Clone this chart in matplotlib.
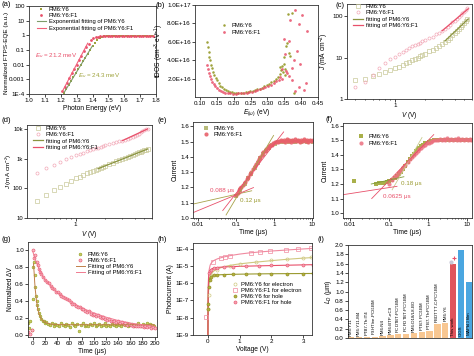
import matplotlib
matplotlib.use('Agg')
import matplotlib.pyplot as plt
from matplotlib.ticker import NullLocator, NullFormatter

plt.rcParams['font.family'] = ['Liberation Sans', 'DejaVu Sans']
plt.rcParams['mathtext.fontset'] = 'custom'
plt.rcParams['mathtext.rm'] = 'Liberation Sans'
plt.rcParams['mathtext.it'] = 'Liberation Sans:italic'

# ---------------- data ----------------
# (a) FTPS-EQE
a_e_y6 = [1.22, 1.235, 1.25, 1.265, 1.28, 1.295, 1.31, 1.325, 1.34, 1.355,
          1.37, 1.385, 1.40, 1.415, 1.43, 1.445, 1.46, 1.475, 1.49, 1.505,
          1.52, 1.535, 1.55, 1.565, 1.58, 1.595, 1.61, 1.625, 1.64, 1.655,
          1.67, 1.685, 1.70, 1.715, 1.73, 1.745, 1.76, 1.775]
a_eqe_y6 = [1.2e-4, 2.2e-4, 4.1e-4, 7.6e-4, 1.4e-3, 2.6e-3, 4.8e-3, 8.9e-3, 0.0165, 0.03,
            0.056, 0.10, 0.18, 0.31, 0.50, 0.68, 0.80, 0.85, 0.87, 0.88,
            0.90, 0.88, 0.90, 0.91, 0.89, 0.90, 0.92, 0.90, 0.91, 0.90,
            0.92, 0.91, 0.90, 0.92, 0.91, 0.90, 0.91, 0.92]
a_e_f1 = [1.21, 1.225, 1.24, 1.255, 1.27, 1.285, 1.30, 1.315, 1.33, 1.345,
          1.36, 1.375, 1.39, 1.405, 1.42, 1.435, 1.45, 1.465, 1.48, 1.495,
          1.51, 1.525, 1.54, 1.555, 1.57, 1.585, 1.60, 1.615, 1.63, 1.645,
          1.66, 1.675, 1.69, 1.705, 1.72, 1.735, 1.75, 1.765, 1.78]
a_eqe_f1 = [1.5e-4, 3e-4, 6e-4, 1.2e-3, 2.5e-3, 5e-3, 0.01, 0.02, 0.04, 0.08,
            0.15, 0.27, 0.45, 0.62, 0.75, 0.82, 0.86, 0.88, 0.90, 0.89,
            0.91, 0.90, 0.92, 0.90, 0.91, 0.93, 0.90, 0.92, 0.91, 0.90,
            0.92, 0.91, 0.93, 0.90, 0.92, 0.91, 0.90, 0.92, 0.91]
a_fit_e_y6 = [1.22, 1.40]
a_fit_y6 = [1.2e-4, 0.195]
a_fit_e_f1 = [1.21, 1.37]
a_fit_f1 = [1.5e-4, 0.29]

# (b) tDOS (x1e16)
b_e_y6 = [0.122, 0.124, 0.126, 0.128, 0.130, 0.133, 0.136, 0.139, 0.142, 0.146,
          0.150, 0.155, 0.160, 0.165, 0.170, 0.176, 0.182, 0.188, 0.194, 0.200,
          0.207, 0.214, 0.221, 0.228, 0.235, 0.242, 0.249, 0.256, 0.263, 0.270,
          0.277, 0.284, 0.291, 0.298, 0.305, 0.312, 0.319, 0.326, 0.332, 0.336,
          0.340, 0.343, 0.346, 0.349, 0.352, 0.355, 0.358, 0.361, 0.364, 0.368,
          0.373, 0.378, 0.338, 0.353, 0.348]
b_dos_y6 = [6.0, 5.4, 4.9, 4.4, 4.0, 3.5, 3.1, 2.7, 2.4, 2.1,
            1.8, 1.5, 1.25, 1.05, 0.9, 0.75, 0.65, 0.57, 0.52, 0.48,
            0.46, 0.45, 0.46, 0.48, 0.5, 0.55, 0.6, 0.66, 0.73, 0.82,
            0.92, 1.02, 1.15, 1.28, 1.42, 1.58, 1.75, 1.95, 2.2, 2.5,
            2.9, 3.4, 2.7, 4.3, 3.0, 5.5, 5.9, 9.0, 4.8, 4.5,
            9.1, 0.4, 3.3, 2.4, 3.6]
b_e_f1 = [0.120, 0.123, 0.126, 0.129, 0.132, 0.136, 0.140, 0.145, 0.150, 0.156,
          0.162, 0.168, 0.175, 0.182, 0.190, 0.198, 0.206, 0.214, 0.222, 0.230,
          0.238, 0.246, 0.254, 0.262, 0.270, 0.278, 0.286, 0.294, 0.302, 0.310,
          0.318, 0.326, 0.333, 0.338, 0.343, 0.348, 0.353, 0.358, 0.363, 0.368,
          0.373, 0.378, 0.383, 0.388, 0.393, 0.398, 0.403, 0.408, 0.413, 0.418,
          0.343, 0.363, 0.383, 0.393, 0.355, 0.373]
b_dos_f1 = [3.5, 3.0, 2.6, 2.25, 1.95, 1.65, 1.4, 1.15, 0.95, 0.78,
            0.65, 0.55, 0.47, 0.42, 0.39, 0.38, 0.38, 0.39, 0.41, 0.44,
            0.48, 0.53, 0.59, 0.66, 0.74, 0.83, 0.93, 1.05, 1.18, 1.33,
            1.5, 1.7, 1.9, 2.2, 2.0, 6.3, 4.7, 2.6, 6.1, 8.4,
            1.8, 4.0, 9.5, 5.0, 7.9, 3.6, 8.9, 0.75, 1.5, 7.2,
            3.0, 2.3, 0.6, 1.1, 2.8, 3.2]

# (c),(d) SCLC
cd_v = [0.4, 0.5, 0.6, 0.7, 0.8, 0.9, 1.0, 1.1, 1.2, 1.3,
        1.4, 1.5, 1.6, 1.7, 1.8, 1.9, 2.0, 2.2, 2.4, 2.6,
        2.8, 3.0, 3.2, 3.4, 3.6, 3.8, 4.0, 4.2, 4.4, 4.6,
        4.8, 5.0, 5.2, 5.4]
c_j_f1 = [1.9, 2.5, 3.7, 5.5, 7.3, 9.0, 10.5, 12, 13.5, 15,
          16.8, 18.5, 20, 21.5, 23, 24.5, 26, 29, 32, 36,
          40, 44, 49, 55, 62, 70, 78, 86, 95, 105,
          116, 127, 140, 155]
c_j_y6 = [2.8, 3.1, 3.5, 4.0, 4.5, 5.0, 5.5, 6.0, 6.6, 7.2,
          7.9, 8.6, 9.3, 10, 10.8, 11.6, 12.4, 14, 15.6, 17.3,
          19.2, 21.5, 24, 27, 30, 34, 38, 43, 48, 54,
          61, 68, 77, 87]
c_fit_v_y6 = [3.2, 5.5]
c_fit_y6 = [25, 85]
c_fit_v_f1 = [3.0, 5.5]
c_fit_f1 = [44, 150]
d_j_f1 = [330, 480, 620, 780, 950, 1120, 1300, 1450, 1600, 1750,
          1900, 2050, 2200, 2350, 2500, 2650, 2800, 3050, 3300, 3550,
          3800, 4050, 4300, 4600, 5000, 5400, 5900, 6400, 7000, 7700,
          8400, 9000, 9600, 10000]
d_j_y6 = [38, 60, 85, 115, 145, 180, 215, 250, 285, 320,
          355, 390, 425, 460, 500, 540, 580, 660, 740, 820,
          900, 980, 1060, 1150, 1240, 1330, 1420, 1520, 1620, 1720,
          1830, 1930, 2020, 2100]
d_fit_v_y6 = [1.7, 5.4]
d_fit_y6 = [460, 2100]
d_fit_v_f1 = [3.0, 5.4]
d_fit_f1 = [4050, 10000]

# (e) TPC
e_t_f1 = [0.10, 0.11, 0.12, 0.13, 0.14, 0.15, 0.17, 0.19, 0.21, 0.23,
          0.25, 0.28, 0.31, 0.34, 0.37, 0.40, 0.44, 0.48, 0.52, 0.57,
          0.62, 0.68, 0.74, 0.81, 0.88, 0.96, 1.05, 1.15, 1.25, 1.37,
          1.5, 1.64, 1.8, 1.97, 2.15, 2.35, 2.57, 2.8, 3.07, 3.35,
          3.66, 4.0, 4.37, 4.78, 5.22, 5.7, 6.23, 6.81, 7.44, 8.13,
          8.88, 9.7, 10.6]
e_i_f1 = [1.15, 1.165, 1.18, 1.195, 1.205, 1.215, 1.235, 1.255, 1.27, 1.285,
          1.30, 1.32, 1.34, 1.355, 1.37, 1.385, 1.40, 1.415, 1.43, 1.44,
          1.45, 1.46, 1.47, 1.475, 1.48, 1.49, 1.495, 1.50, 1.50, 1.505,
          1.51, 1.505, 1.51, 1.50, 1.515, 1.505, 1.51, 1.50, 1.51, 1.505,
          1.515, 1.505, 1.51, 1.50, 1.51, 1.505, 1.515, 1.505, 1.51, 1.50,
          1.51, 1.505, 1.51]
e_t_y6 = [0.1, 0.13, 0.17, 0.21, 0.25, 0.31, 0.37, 0.44, 0.52, 0.62,
          0.74, 0.88, 1.05, 1.25, 1.5, 1.8, 2.15, 2.57, 3.07, 3.66,
          4.37, 5.22, 6.23, 7.44, 8.88, 10.6]
e_i_y6 = [1.145, 1.185, 1.225, 1.26, 1.29, 1.33, 1.36, 1.39, 1.42, 1.44,
          1.46, 1.475, 1.485, 1.495, 1.50, 1.50, 1.505, 1.50, 1.505, 1.50,
          1.505, 1.50, 1.505, 1.50, 1.505, 1.50]
e_tan_t_y6_a = [0.0074, 0.26]
e_tan_i_y6_a = [1.091, 1.178]
e_tan_t_y6_b = [0.055, 0.98]
e_tan_i_y6_b = [1.02, 1.54]
e_tan_t_f1_a = [0.0074, 0.29]
e_tan_i_f1_a = [1.035, 1.199]
e_tan_t_f1_b = [0.045, 1.8]
e_tan_i_f1_b = [1.049, 1.563]

# (f) TPV-rise
f_t_f1 = [0.10, 0.12, 0.14, 0.16, 0.18, 0.2, 0.23, 0.26, 0.3, 0.34,
          0.38, 0.43, 0.48, 0.54, 0.6, 0.67, 0.75, 0.84, 0.94, 1.05,
          1.17, 1.3, 1.45, 1.62, 1.8, 2.0, 2.25, 2.5, 2.8, 3.1,
          3.5, 3.9, 4.35, 4.85, 5.4, 6.0, 6.7, 7.5, 8.4, 9.4,
          10.5, 11.7, 13.0]
f_i_f1 = [1.20, 1.225, 1.245, 1.265, 1.28, 1.295, 1.315, 1.33, 1.35, 1.37,
          1.385, 1.40, 1.415, 1.43, 1.44, 1.45, 1.46, 1.47, 1.48, 1.485,
          1.49, 1.495, 1.50, 1.50, 1.505, 1.51, 1.50, 1.51, 1.505, 1.515,
          1.505, 1.51, 1.50, 1.51, 1.505, 1.515, 1.505, 1.51, 1.50, 1.51,
          1.505, 1.51, 1.505]
f_t_y6 = [0.013, 0.045, 0.055, 0.065, 0.075, 0.09, 0.1, 0.12, 0.14, 0.16,
          0.18, 0.2, 0.23, 0.26, 0.3, 0.34, 0.38, 0.43, 0.48, 0.54,
          0.6, 0.67, 0.75, 0.84, 0.94, 1.05, 1.2, 1.4, 1.6, 1.9,
          2.2, 2.6, 3.0, 3.5, 4.1, 4.8, 5.6, 6.5, 7.6, 8.8,
          10.2, 11.8, 13.5]
f_i_y6 = [1.22, 1.20, 1.205, 1.21, 1.21, 1.215, 1.22, 1.23, 1.24, 1.255,
          1.27, 1.285, 1.305, 1.325, 1.35, 1.37, 1.39, 1.41, 1.425, 1.44,
          1.45, 1.46, 1.47, 1.48, 1.485, 1.49, 1.495, 1.50, 1.50, 1.505,
          1.50, 1.505, 1.50, 1.505, 1.50, 1.505, 1.50, 1.505, 1.50, 1.505,
          1.50, 1.505, 1.50]
f_tan_t_y6_a = [0.035, 0.24]
f_tan_i_y6_a = [1.20, 1.25]
f_tan_t_y6_b = [0.12, 0.7]
f_tan_i_y6_b = [1.16, 1.52]
f_tan_t_f1_a = [0.0068, 0.16]
f_tan_i_f1_a = [1.127, 1.184]
f_tan_t_f1_b = [0.036, 1.4]
f_tan_i_f1_b = [1.10, 1.54]

# (g) TPV decay
g_t_y6 = [-8, -6, -4, -2, 0, 1, 2, 3, 4, 5, 6, 7, 8,
          10, 12, 14, 16, 18, 20, 22,
          25, 28, 31, 34, 37, 40, 43, 46, 49, 52,
          55, 58, 61, 64, 67, 70, 73, 76, 79, 82,
          85, 88, 91, 94, 97, 100, 103, 106, 109, 112,
          115, 118, 121, 124, 127, 130, 133, 136, 139, 142,
          145, 148, 151, 154, 157, 160, 163, 166, 169, 172,
          175, 178, 181, 184, 187, 190, 193, 196, 199]
g_v_y6 = [0.14, 0.08, 0.16, 0.06, 0.42, 0.80, 0.86, 0.70, 0.56, 0.46, 0.40, 0.35, 0.31,
          0.26, 0.22, 0.19, 0.17, 0.16, 0.14, 0.15,
          0.13, 0.12, 0.14, 0.11, 0.13, 0.12, 0.10, 0.14, 0.12, 0.11,
          0.13, 0.12, 0.09, 0.14, 0.12, 0.11, 0.13, 0.05, 0.12, 0.14,
          0.11, 0.12, 0.10, 0.13, 0.12, 0.14, 0.11, 0.12, 0.13, 0.10,
          0.12, 0.14, 0.11, 0.12, 0.10, 0.13, 0.12, 0.11, 0.13, 0.12,
          0.10, 0.13, 0.12, 0.14, 0.11, 0.12, 0.13, 0.11, 0.12, 0.14,
          0.12, 0.10, 0.13, 0.12, 0.14, 0.11, 0.13, 0.12, 0.10]
g_t_f1 = [-8, -5, -2, 0, 2, 4, 6, 8, 10, 12,
          14, 17, 20, 23, 26, 29, 32, 35, 38, 41,
          44, 47, 50, 53, 56, 59, 62, 65, 68, 71,
          74, 77, 80, 83, 86, 89, 92, 95, 98, 101,
          104, 107, 110, 113, 116, 119, 122, 125, 128, 131,
          134, 137, 140, 143, 146, 149, 152, 155, 158, 161,
          164, 167, 170, 173, 176, 179, 182, 185, 188, 191,
          194, 197, 200]
g_v_f1 = [0.04, 0.01, 0.06, 1.0, 0.90, 0.94, 0.86, 0.82, 0.78, 0.74,
          0.72, 0.68, 0.65, 0.62, 0.61, 0.58, 0.55, 0.54, 0.51, 0.50,
          0.48, 0.46, 0.45, 0.43, 0.42, 0.41, 0.39, 0.37, 0.37, 0.34,
          0.33, 0.33, 0.30, 0.31, 0.28, 0.27, 0.28, 0.25, 0.24, 0.25,
          0.22, 0.23, 0.21, 0.20, 0.21, 0.19, 0.18, 0.19, 0.17, 0.16,
          0.17, 0.15, 0.16, 0.14, 0.15, 0.13, 0.14, 0.12, 0.13, 0.12,
          0.11, 0.12, 0.11, 0.10, 0.11, 0.10, 0.09, 0.10, 0.09, 0.10,
          0.08, 0.09, 0.08]
g_fit_t_y6 = [1, 2, 3, 4, 6, 8, 10, 13, 16, 20, 25, 30, 40, 60, 100, 150, 200]
g_fit_y6 = [0.84, 0.74, 0.62, 0.53, 0.40, 0.31, 0.25, 0.20, 0.17, 0.15,
            0.135, 0.128, 0.122, 0.12, 0.12, 0.12, 0.12]
g_fit_t_f1 = [0, 2, 5, 10, 15, 20, 30, 40, 50, 60, 70, 80, 90, 100, 120, 140, 160, 180, 200]
g_fit_f1 = [0.98, 0.93, 0.87, 0.78, 0.71, 0.65, 0.57, 0.50, 0.45, 0.40,
            0.36, 0.32, 0.29, 0.26, 0.21, 0.17, 0.14, 0.12, 0.10]

# (h) photocurrent
h_v_fit = [0.0, 0.005, 0.01, 0.02, 0.04, 0.07, 0.1, 0.15, 0.2, 0.3,
           0.45, 0.6, 0.8, 1.0, 1.3, 1.6, 2.0, 2.5, 3.0, 3.4]
h_fit_f1_e = [1e-9, 3e-8, 3e-7, 2e-6, 6e-6, 1.1e-5, 1.4e-5, 1.8e-5, 2.1e-5, 2.55e-5,
              3.1e-5, 3.6e-5, 4.2e-5, 4.8e-5, 5.6e-5, 6.3e-5, 7.2e-5, 8.3e-5, 9.5e-5, 1.05e-4]
h_fit_y6_e = [1e-9, 1e-8, 5e-8, 3e-7, 1.2e-6, 2.3e-6, 3.2e-6, 4.3e-6, 5.2e-6, 6.6e-6,
              8.3e-6, 9.8e-6, 1.15e-5, 1.3e-5, 1.5e-5, 1.7e-5, 2.0e-5, 2.4e-5, 2.8e-5, 3.1e-5]
h_fit_f1_h = [1e-9, 5e-8, 4e-7, 2e-6, 4e-6, 5.5e-6, 6.3e-6, 7.1e-6, 7.6e-6, 8.1e-6,
              8.5e-6, 8.8e-6, 9.1e-6, 9.4e-6, 9.7e-6, 1.0e-5, 1.04e-5, 1.09e-5, 1.14e-5, 1.18e-5]
h_fit_y6_h = [1e-9, 3e-8, 2e-7, 8e-7, 1.6e-6, 2.1e-6, 2.4e-6, 2.7e-6, 2.85e-6, 3.0e-6,
              3.1e-6, 3.18e-6, 3.25e-6, 3.3e-6, 3.37e-6, 3.43e-6, 3.5e-6, 3.55e-6, 3.6e-6, 3.63e-6]
h_v_f1_e = [-0.05, 0.15, 0.4, 0.55, 0.7, 1.35, 1.65, 1.95, 2.45, 2.85, 3.25]
h_i_f1_e = [1.1e-8, 1.6e-5, 2.9e-5, 3.4e-5, 3.9e-5, 5.6e-5, 6.3e-5, 7.0e-5, 8.2e-5, 9.2e-5, 1.08e-4]
h_v_y6_e = [0.0, 0.02, 0.1, 0.3, 0.7, 1.0, 1.5, 2.0, 2.5, 3.0, 3.25]
h_i_y6_e = [3e-8, 2e-7, 3e-6, 6e-6, 1e-5, 1.3e-5, 1.7e-5, 2.1e-5, 2.5e-5, 2.9e-5, 3.1e-5]
h_v_f1_h = [0.02, 0.05, 0.1, 0.2, 0.3, 0.5, 0.8, 1.2, 1.6, 2.0, 2.5, 3.0, 3.3]
h_i_f1_h = [4e-6, 5e-6, 6e-6, 7.5e-6, 8e-6, 8.6e-6, 9.1e-6, 9.6e-6, 1.0e-5, 1.05e-5, 1.1e-5, 1.15e-5, 1.18e-5]
h_v_y6_h = [0.0, 0.0, 0.02, 0.05, 0.1, 0.2, 0.3, 0.5, 0.8, 1.2, 1.6, 2.0, 2.5, 3.0, 3.3]
h_i_y6_h = [6e-8, 3e-8, 6e-7, 1.5e-6, 2.3e-6, 2.8e-6, 3.0e-6, 3.15e-6, 3.25e-6, 3.35e-6,
            3.45e-6, 3.5e-6, 3.55e-6, 3.6e-6, 3.62e-6]

# (i) diffusion length
i_labels = ["PM6:Y11", "PM6:Y11-M4", "PTB7-Th:IT4", "P3HT/ne-PC$_{61}$BM", "PM6:N4",
            "PM6:BTP-eC9", "PCDTBT:PC$_{71}$BM", "PCPDTBT:PC$_{71}$BM", "PM6:D18/L8-BO",
            "PTB7:PC$_{71}$BM", "PTB7-Th:PC$_{71}$BM", "PBDTTT-C:PC$_{71}$BM", "PM6:Y6",
            "This work", "CIGS", "MAPbI$_3$ film"]
i_values = [0.02, 0.02, 0.03, 0.03, 0.04, 0.06, 0.08, 0.09, 0.10, 0.12,
            0.15, 0.30, 0.33, 1.60, 1.90, 1.20]
i_kind = ["lit"] * 13 + ["this", "ref", "ref"]

# ---------------- styling ----------------
OLIVE = '#9ea23b'
RED = '#e8506a'
PALE_OL = '#c9c99a'
PALE_RD = '#f2a9b8'
FS_T = 4.5
FS_L = 4.8
FS_LG = 4.2

W, H = 474, 356
fig = plt.figure(figsize=(4.74, 3.56), dpi=100)


def box(x0, y0, x1, y1):
    return fig.add_axes([x0 / W, 1 - y1 / H, (x1 - x0) / W, (y1 - y0) / H])


def style(ax):
    ax.tick_params(which='both', direction='out', labelsize=FS_T, width=0.5, pad=1)
    ax.tick_params(which='major', length=2)
    ax.tick_params(which='minor', length=1)
    for s in ax.spines.values():
        s.set_linewidth(0.6)
        s.set_color('#333333')


def leg(ax, x, y):
    ax.legend(loc='upper left', bbox_to_anchor=(x, y), fontsize=FS_LG, frameon=False,
              handlelength=1.6, handletextpad=0.5, labelspacing=0.2, borderpad=0,
              borderaxespad=0)


def plabel(x, y, s):
    fig.text(x / W, 1 - y / H, s, fontsize=5.5, va='top', ha='left')


# (a)
ax = box(29, 6, 156, 94)
style(ax)
ax.plot(a_e_y6, a_eqe_y6, ls='none', marker='s', ms=1.8, color=OLIVE, mew=0, label='PM6:Y6')
ax.plot(a_e_f1, a_eqe_f1, ls='none', marker='o', ms=2.0, color=RED, mew=0, label='PM6:Y6:F1')
ax.plot(a_fit_e_y6, a_fit_y6, color='#7e9c6a', lw=0.8, label='Exponential fitting of PM6:Y6')
ax.plot(a_fit_e_f1, a_fit_f1, color='#f0607a', lw=0.8, label='Exponential fitting of PM6:Y6:F1')
ax.set_yscale('log')
ax.set_ylim(1e-4, 100)
ax.set_xlim(1.0, 1.8)
ax.set_yticks([1e-4, 1e-3, 1e-2, 0.1, 1, 10, 100])
ax.set_yticklabels(['1E-4', '0.001', '0.01', '0.1', '1', '10', '100'])
ax.yaxis.set_minor_locator(NullLocator())
ax.set_xticks([1.0, 1.1, 1.2, 1.3, 1.4, 1.5, 1.6, 1.7, 1.8])
ax.set_xticklabels(['1.0', '1.1', '1.2', '1.3', '1.4', '1.5', '1.6', '1.7', '1.8'])
ax.set_ylabel('Normalized FTPS-EQE (a.u.)', fontsize=4.6)
ax.yaxis.set_label_coords(-0.155, 0.47)
ax.set_xlabel('Photon Energy (eV)', fontsize=FS_L, labelpad=1)
ax.text(1.04, 0.045, '$E_u$ = 21.2 meV', color=RED, fontsize=4.5, va='center')
ax.text(1.31, 0.0019, '$E_u$ = 24.3 meV', color=OLIVE, fontsize=4.5, va='center')
leg(ax, 0.06, 0.99)
plabel(1, 1, '(a)')

# (b)
ax = box(195, 5, 318, 97)
style(ax)
ax.plot(b_e_y6, [v * 1e16 for v in b_dos_y6], ls='none', marker='o', ms=1.8, color=OLIVE, mew=0,
        label='PM6:Y6')
ax.plot(b_e_f1, [v * 1e16 for v in b_dos_f1], ls='none', marker='o', ms=2.0, color=RED, mew=0,
        alpha=0.85, label='PM6:Y6:F1')
ax.set_xlim(0.085, 0.45)
ax.set_ylim(0, 1.0e17)
ax.set_yticks([2e16, 4e16, 6e16, 8e16, 1e17])
ax.set_yticklabels(['2.0E+16', '4.0E+16', '6.0E+16', '8.0E+16', '1.0E+17'])
ax.set_xticks([0.10, 0.15, 0.20, 0.25, 0.30, 0.35, 0.40, 0.45])
ax.set_xticklabels(['0.10', '0.15', '0.20', '0.25', '0.30', '0.35', '0.40', '0.45'])
ax.set_ylabel('tDOS (cm$^{-3}$ eV$^{-1}$)', fontsize=FS_L, labelpad=1)
ax.set_xlabel('$E_{(\\omega)}$ (eV)', fontsize=FS_L, labelpad=1)
leg(ax, 0.2, 0.8)
plabel(156, 2, '(b)')

# (c)
ax = box(347, 4, 472, 99)
style(ax)
ax.plot(cd_v, c_j_y6, ls='none', marker='s', ms=2.2, mfc='none', mec=PALE_OL, mew=0.5, label='PM6:Y6')
ax.plot(cd_v, c_j_f1, ls='none', marker='o', ms=2.2, mfc='none', mec=PALE_RD, mew=0.5, label='PM6:Y6:F1')
ax.plot(c_fit_v_y6, c_fit_y6, color='#8a9440', lw=0.9, label='fitting of PM6:Y6')
ax.plot(c_fit_v_f1, c_fit_f1, color='#e8506a', lw=0.9, label='fitting of PM6:Y6:F1')
ax.set_xscale('log')
ax.set_yscale('log')
ax.set_xlim(0.33, 6.0)
ax.set_ylim(1, 195)
ax.set_xticks([1])
ax.set_xticklabels(['1'])
ax.xaxis.set_minor_formatter(NullFormatter())
ax.set_yticks([1, 10, 100])
ax.set_yticklabels(['1', '10', '100'])
ax.yaxis.set_minor_locator(NullLocator())
ax.set_ylabel('$J$ (mA cm$^{-2}$)', fontsize=FS_L, labelpad=1)
ax.set_xlabel('$V$ (V)', fontsize=FS_L, labelpad=1)
leg(ax, 0.05, 1.0)
plabel(336, 2, '(c)')

# (d)
ax = box(27, 125, 152, 218)
style(ax)
ax.tick_params(axis='y', labelsize=4.2)
ax.plot(cd_v, d_j_y6, ls='none', marker='s', ms=2.2, mfc='none', mec=PALE_OL, mew=0.5, label='PM6:Y6')
ax.plot(cd_v, d_j_f1, ls='none', marker='o', ms=2.2, mfc='none', mec=PALE_RD, mew=0.5, label='PM6:Y6:F1')
ax.plot(d_fit_v_y6, d_fit_y6, color='#8a9440', lw=0.9, label='fitting of PM6:Y6')
ax.plot(d_fit_v_f1, d_fit_f1, color='#e8506a', lw=0.9, label='fitting of PM6:Y6:F1')
ax.set_xscale('log')
ax.set_yscale('log')
ax.set_xlim(0.32, 6.0)
ax.set_ylim(10, 13600)
ax.set_xticks([1])
ax.set_xticklabels(['1'])
ax.xaxis.set_minor_formatter(NullFormatter())
ax.set_yticks([10, 100, 1000, 10000])
ax.set_yticklabels(['10', '100', '1k', '10k'])
ax.yaxis.set_minor_locator(NullLocator())
ax.set_ylabel('$J$ (mA cm$^{-2}$)', fontsize=4.5)
ax.yaxis.set_label_coords(-0.108, 0.5)
ax.set_xlabel('$V$ (V)', fontsize=FS_L, labelpad=1)
leg(ax, 0.05, 0.99)
plabel(1, 117, '(d)')

# (e)
ax = box(193, 122, 313, 218)
style(ax)
ax.plot(e_t_y6, e_i_y6, ls='none', marker='s', ms=2.6, color='#b7bb7a', mew=0, label='PM6:Y6')
ax.plot(e_t_f1, e_i_f1, ls='none', marker='o', ms=3.0, color='#e8606a', mew=0, alpha=0.9,
        label='PM6:Y6:F1')
ax.plot(e_tan_t_y6_a, e_tan_i_y6_a, color='#a8a24a', lw=0.6)
ax.plot(e_tan_t_y6_b, e_tan_i_y6_b, color='#a8a24a', lw=0.6)
ax.plot(e_tan_t_f1_a, e_tan_i_f1_a, color='#e8506a', lw=0.6)
ax.plot(e_tan_t_f1_b, e_tan_i_f1_b, color='#e8506a', lw=0.6)
ax.set_xscale('log')
ax.set_xlim(0.0074, 10.7)
ax.set_ylim(1.0, 1.628)
ax.set_xticks([0.01, 0.1, 1, 10])
ax.set_xticklabels(['0.01', '0.1', '1', '10'])
ax.xaxis.set_minor_formatter(NullFormatter())
ax.set_yticks([1.0, 1.1, 1.2, 1.3, 1.4, 1.5, 1.6])
ax.set_yticklabels(['1.0', '1.1', '1.2', '1.3', '1.4', '1.5', '1.6'])
ax.set_ylabel('Current', fontsize=FS_L, labelpad=1)
ax.set_xlabel('Time (\u03bcs)', fontsize=FS_L, labelpad=1)
ax.text(0.021, 1.178, '0.088 \u03bcs', color=RED, fontsize=4.5, va='center')
ax.text(0.13, 1.113, '0.12 \u03bcs', color='#9a9a30', fontsize=4.5, va='center')
leg(ax, 0.07, 0.96)
plabel(158, 117, '(e)')

# (f)
ax = box(343, 123, 472, 218)
style(ax)
ax.plot(f_t_y6, f_i_y6, ls='none', marker='s', ms=2.4, color='#a9b04a', mew=0, label='PM6:Y6')
ax.plot(f_t_f1, f_i_f1, ls='none', marker='o', ms=3.0, color='#ec7080', mew=0, alpha=0.85,
        label='PM6:Y6:F1')
ax.plot(f_tan_t_y6_a, f_tan_i_y6_a, color='#7f9a3a', lw=0.6)
ax.plot(f_tan_t_y6_b, f_tan_i_y6_b, color='#c8cc90', lw=0.6)
ax.plot(f_tan_t_f1_a, f_tan_i_f1_a, color='#e8506a', lw=0.6)
ax.plot(f_tan_t_f1_b, f_tan_i_f1_b, color='#e8506a', lw=0.6)
ax.set_xscale('log')
ax.set_xlim(0.0066, 13.4)
ax.set_ylim(0.966, 1.62)
ax.set_xticks([0.01, 0.1, 1, 10])
ax.set_xticklabels(['0.01', '0.1', '1', '10'])
ax.xaxis.set_minor_formatter(NullFormatter())
ax.set_yticks([1.0, 1.1, 1.2, 1.3, 1.4, 1.5, 1.6])
ax.set_yticklabels(['1.0', '1.1', '1.2', '1.3', '1.4', '1.5', '1.6'])
ax.set_ylabel('Current', fontsize=FS_L, labelpad=1)
ax.set_xlabel('Time (\u03bcs)', fontsize=FS_L, labelpad=1)
ax.text(0.2, 1.205, '0.18 \u03bcs', color='#9a9a30', fontsize=4.5, va='center')
ax.text(0.068, 1.115, '0.0625 \u03bcs', color=RED, fontsize=4.5, va='center')
leg(ax, 0.1, 0.88)
plabel(326, 116, '(f)')

# (g)
ax = box(28, 242, 157, 337)
style(ax)
ax.plot(g_t_y6, g_v_y6, ls='none', marker='o', ms=2.0, mfc='#c8cc60', mec='#8f9a20', mew=0.4,
        label='PM6:Y6')
ax.plot(g_t_f1, g_v_f1, ls='none', marker='o', ms=2.2, mfc='#f6b8c4', mec='#e8506a', mew=0.4,
        label='PM6:Y6:F1')
ax.plot(g_fit_t_y6, g_fit_y6, color='#c0804a', lw=0.7, label='Fitting of PM6:Y6')
ax.plot(g_fit_t_f1, g_fit_f1, color='#f07a90', lw=0.7, label='Fitting of PM6:Y6:F1')
ax.set_xlim(-8, 204)
ax.set_ylim(-0.024, 1.094)
ax.set_xticks([0, 20, 40, 60, 80, 100, 120, 140, 160, 180, 200])
ax.set_yticks([0.0, 0.2, 0.4, 0.6, 0.8, 1.0])
ax.set_yticklabels(['0.0', '0.2', '0.4', '0.6', '0.8', '1.0'])
ax.set_ylabel('Normalized \u0394V', fontsize=FS_L, labelpad=1)
ax.set_xlabel('Time (\u03bcs)', fontsize=FS_L, labelpad=1)
leg(ax, 0.37, 0.9)
plabel(1, 236, '(g)')

# (h)
ax = box(193, 243, 312, 335)
style(ax)
ax.plot(h_v_fit, h_fit_y6_e, color='#cfc880', lw=0.8)
ax.plot(h_v_fit, h_fit_f1_e, color='#f08aa0', lw=0.8)
ax.plot(h_v_fit, h_fit_y6_h, color='#9a9a30', lw=0.8)
ax.plot(h_v_fit, h_fit_f1_h, color='#e8506a', lw=0.8)
ax.plot(h_v_y6_e, h_i_y6_e, ls='none', marker='o', ms=2.2, mfc='none', mec='#cfc880', mew=0.5,
        label='PM6:Y6 for electron')
ax.plot(h_v_f1_e, h_i_f1_e, ls='none', marker='s', ms=2.2, mfc='none', mec='#f08aa0', mew=0.5,
        label='PM6:Y6:F1 for electron')
ax.plot(h_v_y6_h, h_i_y6_h, ls='none', marker='o', ms=2.2, mfc='#b5b040', mec='#8a8a20', mew=0.4,
        label='PM6:Y6 for hole')
ax.plot(h_v_f1_h, h_i_f1_h, ls='none', marker='o', ms=2.2, mfc='#f4a0b0', mec='#e8506a', mew=0.4,
        label='PM6:Y6:F1 for hole')
ax.set_yscale('log')
ax.set_xlim(-0.47, 3.28)
ax.set_ylim(1e-9, 2.1e-4)
ax.set_xticks([0, 1, 2, 3])
ax.set_yticks([1e-9, 1e-8, 1e-7, 1e-6, 1e-5, 1e-4])
ax.set_yticklabels(['1E-9', '1E-8', '1E-7', '1E-6', '1E-5', '1E-4'])
ax.yaxis.set_minor_locator(NullLocator())
ax.set_ylabel('Photocurrent (A)', fontsize=FS_L, labelpad=1)
ax.set_xlabel('Voltage (V)', fontsize=FS_L, labelpad=1)
ax.legend(loc='upper left', bbox_to_anchor=(0.33, 0.58), fontsize=FS_LG, frameon=False,
          handlelength=1.0, handletextpad=0.5, labelspacing=0.2, borderpad=0, borderaxespad=0)
plabel(157, 236, '(h)')

# (i)
ax = box(348, 245, 472, 338)
style(ax)
cmap = {'lit': '#f8c792', 'this': '#e0545c', 'ref': '#4aa6e0'}
xs = list(range(len(i_values)))
ax.bar(xs, i_values, width=0.8, color=[cmap[k] for k in i_kind])
for x, v, lab, k in zip(xs, i_values, i_labels, i_kind):
    if k == 'lit':
        ax.text(x, v + 0.03, lab, rotation=90, fontsize=3.2, ha='center', va='bottom')
    else:
        ax.text(x, 0.04, lab, rotation=90, fontsize=3.2, ha='center', va='bottom')
ax.plot([13.05], [1.72], ls='none', marker='+', ms=3.5, mew=0.8, color='#e8506a')
ax.plot([12.75], [1.63], ls='none', marker='o', ms=2.0, color='#c8c8d8')
ax.set_xlim(-0.4, 15.4)
ax.set_ylim(0, 2.0)
ax.set_xticks([])
ax.set_yticks([0.0, 0.2, 0.4, 0.6, 0.8, 1.0, 1.2, 1.4, 1.6, 1.8, 2.0])
ax.set_yticklabels(['0.0', '0.2', '0.4', '0.6', '0.8', '1.0', '1.2', '1.4', '1.6', '1.8', '2.0'])
ax.set_ylabel('$L_D$ (\u03bcm)', fontsize=FS_L, labelpad=1)
plabel(317, 236, '(i)')

fig.savefig('out.png', dpi=100)
